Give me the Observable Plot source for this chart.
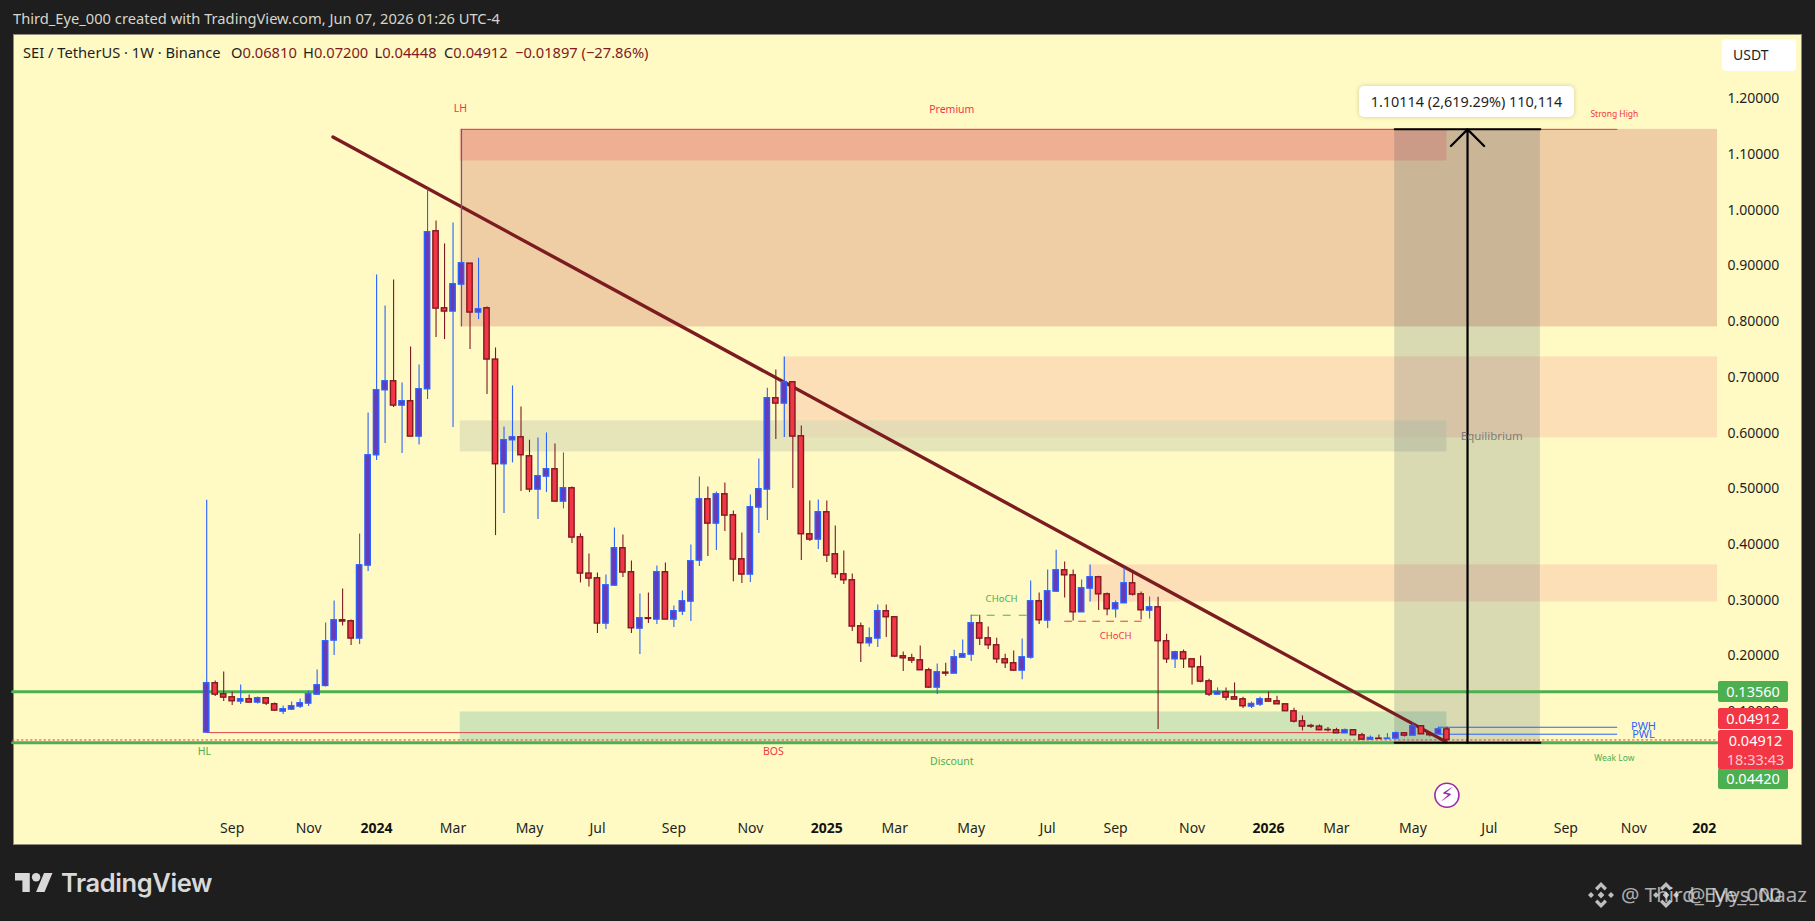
<!DOCTYPE html>
<html><head><meta charset="utf-8">
<script src="https://cdn.jsdelivr.net/npm/d3@7"></script>
<script src="https://cdn.jsdelivr.net/npm/@observablehq/plot@0.6"></script>
<style>
html,body{margin:0;padding:0;background:#1e1e1e;overflow:hidden}
#page{position:relative;width:1815px;height:921px;background:#1e1e1e;font-family:"Noto Sans",sans-serif}
#chart svg{position:absolute;left:13px;top:34px;outline:1.5px solid #8c8c78;outline-offset:-1px}
.t{position:absolute;white-space:nowrap;line-height:1}
.badge{position:absolute;color:#fff;font-size:14.5px;text-align:center;box-sizing:border-box;border-radius:2px}
</style></head><body>
<div id="page"><div id="chart"></div></div>
<script>
const firstWeek = "2023-08-14";
const open = [.0623,.1509,.1311,.1257,.1180,.1222,.1162,.1240,.1132,.1000,.1036,.1090,.1144,.1305,.1461,.2275,.2640,.2622,.2311,.3621,
.5602,.6769,.6931,.6494,.6572,.5937,.6787,.9624,.8241,.8182,.8666,.9043,.8164,.8241,.7320,.5441,.5872,.5925,.5584,.4986,
.5219,.5351,.4770,.5010,.4130,.3478,.3394,.2580,.3262,.3933,.3502,.2490,.2676,.2652,.3502,.2652,.2796,.2975,.3711,.4812,
.4375,.4902,.4525,.3735,.3460,.4663,.4986,.6626,.6530,.6913,.5943,.4184,.4088,.4579,.3825,.3466,.3358,.2532,.2227,.2311,
.2802,.2694,.1993,.1957,.1921,.1742,.1431,.1700,.1682,.1969,.2023,.2586,.2316,.2191,.1939,.1868,.1736,.1969,.2981,.2634,
.3154,.3537,.3447,.2783,.3208,.3412,.3106,.2837,.2945,.3304,.3106,.2813,.2873,.2263,.1939,.2065,.1939,.1796,.1544,.1305,
.1347,.1257,.1221,.1090,.1126,.1221,.1185,.1131,.1006,.0826,.0742,.0731,.0671,.0665,.0611,.0665,.0575,.0497,.0515,.0509,
.0515,.0611,.0569,.0737,.0593,.0593,.0681];
const high = [.4794,.1551,.1712,.1347,.1479,.1299,.1263,.1245,.1156,.1102,.1174,.1228,.1371,.1748,.2592,.2987,.3203,.2646,.4190,.6362,
.8840,.8283,.8750,.6901,.7547,.7224,1.0378,.9809,.9396,.9773,1.1453,.9043,.9139,.8265,.7529,.6111,.6847,.6470,.5872,.5913,
.6003,.5806,.5644,.5034,.4190,.3831,.3490,.3454,.4298,.4172,.3705,.3113,.3131,.3615,.3669,.2897,.3167,.3992,.5213,.5034,
.4944,.5106,.4603,.4208,.4890,.5536,.6805,.7134,.7368,.6913,.6129,.4782,.4800,.4782,.4334,.3885,.3472,.2592,.2502,.2915,
.2915,.2694,.2071,.2029,.2179,.1778,.1856,.1868,.2101,.2286,.2729,.2729,.2520,.2316,.2029,.2089,.2304,.3346,.3130,.3543,
.3896,.3687,.3543,.3364,.3633,.3430,.3130,.2987,.3573,.3501,.3148,.3058,.3052,.2388,.2083,.2107,.1939,.1999,.1580,.1425,
.1425,.1515,.1257,.1173,.1257,.1353,.1275,.1131,.1060,.0922,.0772,.0760,.0713,.0701,.0689,.0677,.0611,.0563,.0581,.0605,
.0635,.0623,.0796,.0749,.0629,.0719,.0720];
const low = [.0623,.1269,.1180,.1108,.1126,.1156,.1138,.1108,.1000,.0946,.1018,.1054,.1090,.1299,.1443,.2006,.2538,.2185,.2203,.3514,
.5506,.5812,.6458,.5632,.5937,.5788,.6602,.7715,.7679,.6099,.7906,.7499,.8038,.6691,.4160,.4555,.5465,.4950,.4932,.4447,
.4932,.4758,.4639,.4016,.3310,.3238,.2401,.2472,.3244,.3406,.2401,.2024,.2580,.2562,.2652,.2508,.2724,.2616,.3603,.3783,
.3891,.4232,.3332,.3298,.3316,.4196,.4429,.5883,.5919,.5004,.3711,.4052,.3909,.3675,.3388,.3280,.2436,.1880,.2161,.2149,
.2329,.1970,.1718,.1862,.1742,.1413,.1305,.1628,.1682,.1957,.1898,.2185,.2113,.1862,.1772,.1724,.1574,.1939,.2562,.2490,
.3136,.3041,.2628,.2783,.2969,.2813,.2723,.2681,.2945,.3076,.2646,.2664,.0677,.1862,.1772,.1772,.1479,.1520,.1269,.1305,
.1197,.1215,.1054,.1054,.1090,.1179,.1131,.1006,.0796,.0653,.0695,.0659,.0635,.0605,.0605,.0575,.0491,.0485,.0503,.0509,
.0515,.0545,.0569,.0593,.0545,.0593,.04448];
const close = [.1509,.1305,.1251,.1186,.1222,.1162,.1240,.1144,.1018,.1042,.1096,.1150,.1311,.1473,.2263,.2640,.2616,.2311,.3627,.5602,
.6769,.6931,.6494,.6572,.5937,.6787,.9606,.8235,.8182,.8672,.9049,.8164,.8223,.7320,.5441,.5872,.5925,.5602,.4986,.5225,
.5351,.4770,.5010,.4124,.3478,.3388,.2580,.3268,.3933,.3496,.2496,.2676,.2664,.3502,.2652,.2802,.2981,.3699,.4812,.4375,
.4902,.4519,.3729,.3460,.4669,.4992,.6626,.6530,.6913,.5937,.4184,.4088,.4579,.3801,.3466,.3358,.2526,.2227,.2317,.2802,
.2694,.1988,.1957,.1915,.1742,.1431,.1706,.1682,.1975,.2029,.2586,.2310,.2191,.1939,.1868,.1736,.1975,.2981,.2640,.3160,
.3537,.3447,.2783,.3214,.3412,.3106,.2837,.2945,.3304,.3100,.2819,.2873,.2263,.1939,.2065,.1939,.1796,.1538,.1305,.1353,
.1251,.1215,.1096,.1137,.1221,.1179,.1131,.1006,.0820,.0731,.0731,.0665,.0665,.0611,.0665,.0575,.0497,.0527,.0509,.0515,
.0611,.0569,.0737,.0593,.0575,.0681,.04912];

const priceTicks = [.1,.2,.3,.4,.5,.6,.7,.8,.9,1,1.1,1.2];
const monthTickDates = ["2023-09-04","2023-11-06","2024-03-04","2024-05-06","2024-07-01","2024-09-02","2024-11-04","2025-03-03","2025-05-05","2025-07-07","2025-09-01","2025-11-03","2026-03-02","2026-05-04","2026-07-06","2026-09-07","2026-11-02"];
const monthTickLabels = ["Sep","Nov","Mar","May","Jul","Sep","Nov","Mar","May","Jul","Sep","Nov","Mar","May","Jul","Sep","Nov"];
const yearTickDates = ["2024-01-01","2025-01-06","2026-01-05","2026-12-30"];
const yearTickLabels = ["2024","2025","2026","202"];

// zones
const zoneStart  = ["2024-03-10","2024-03-10","2024-03-10","2024-03-10","2024-12-01","2025-08-10"];
const zoneEnd    = ["2027-01-10","2026-06-01","2026-06-01","2026-06-01","2027-01-10","2027-01-10"];
const zoneTop    = [1.1453,1.1453,.6219,.0994,.7367,.3633];
const zoneBottom = [.7906,1.0886,.5663,.0442,.5913,.2969];
const zoneFills  = ["#efcda5","#ee9b85","#d8d8b4","#c4e0b4","#fddfb7","#fddfb7"];
const zoneAlpha  = [1,.6,.65,.8,1,1];

const strongHigh=1.1453, weakLow=.0442, support=.1356, lastPrice=.04912, hlLevel=.0623, pwh=.0719, pwl=.0594;
const trendDates=["2023-11-26","2026-05-31"], trendValues=[1.1317,.0461];
const measureStart="2026-04-19", measureEnd="2026-08-17", measureArrow="2026-06-18";
const labelText=["LH","Premium","Strong High","HL","BOS","Discount","Equilibrium","Weak Low","CHoCH","CHoCH","PWH","PWL"];
const labelDates=["2024-03-10","2025-04-19","2026-10-17","2023-08-12","2024-11-23","2025-04-19","2026-07-08","2026-10-17","2025-05-30","2025-09-01","2026-11-10","2026-11-10"];
const labelValues=[1.1827,1.1806,1.173,.0276,.0276,.0101,.5949,.0169,.3030,.2365,.0730,.0581];
const labelFill=["#f23645","#f23645","#f23645","#4caf50","#f23645","#4caf50","#7d7d78","#4caf50","#4caf50","#f23645","#2962ff","#2962ff"];
const labelSize=[10.5,10.5,8.5,10.5,10.5,10.5,11.5,8.5,9.5,9.5,11,11];
const chochGreen={dates:["2025-05-05","2025-06-23"],value:.2730};
const chochRed={dates:["2025-07-21","2025-09-22"],value:.2622};

const D=s=>new Date(s+"T00:00:00Z");
const start=D(firstWeek);
const week=i=>new Date(+start+i*7*864e5);
const shift=(d,n)=>new Date(+d+n*864e5);
const candles=open.map((o,i)=>({date:week(i),open:o,high:high[i],low:low[i],close:close[i],up:close[i]>=o}));
const ups=candles.filter(d=>d.up), downs=candles.filter(d=>!d.up);
const zones=zoneStart.map((s,i)=>({x1:D(s),x2:D(zoneEnd[i]),y1:zoneBottom[i],y2:zoneTop[i],fill:zoneFills[i],a:zoneAlpha[i]}));
const labels=labelText.map((t,i)=>({t,x:D(labelDates[i]),y:labelValues[i],fill:labelFill[i],size:labelSize[i]}));
const hLine=(a,b,v)=>[{x:D(a),y:v},{x:D(b),y:v}];
const leftEdge="2023-03-07", axisEdge="2027-01-10";

const RED="#f23645",REDD="#801922",BLUE="#2962ff",PURP="#673ab7",GREEN="#4caf50";
const bodyMark=(data,fill,stroke)=>Plot.rect(data,{x1:d=>shift(d.date,-2.2),x2:d=>shift(d.date,2.2),y1:"open",y2:"close",fill,stroke,strokeWidth:1.4});

const plot=Plot.plot({
  width:1789,height:811,marginLeft:0,marginRight:81,marginTop:0,marginBottom:28,
  style:{background:"#fff9c4",fontFamily:"'Noto Sans',sans-serif",fontSize:"14px",color:"#1f1f1f",overflow:"visible"},
  x:{type:"utc",domain:[D(firstWeek),week(146)],range:[193.2,1433.4]},
  y:{type:"linear",domain:[0,1.2],range:[732.8,64.4]},
  marks:[
    Plot.rect(zones.slice(0,1),{x1:"x1",x2:"x2",y1:"y1",y2:"y2",fill:d=>d.fill,fillOpacity:d=>d.a}),
    Plot.rect(zones.slice(4),{x1:"x1",x2:"x2",y1:"y1",y2:"y2",fill:d=>d.fill,fillOpacity:d=>d.a}),
    Plot.rect(zones.slice(1,4),{x1:"x1",x2:"x2",y1:"y1",y2:"y2",fill:d=>d.fill,fillOpacity:d=>d.a}),
    Plot.rect([{x1:D(measureStart),x2:D(measureEnd),y1:weakLow,y2:strongHigh}],{x1:"x1",x2:"x2",y1:"y1",y2:"y2",fill:"#113a50",fillOpacity:.16}),
    Plot.axisY({anchor:"right",ticks:priceTicks,tickSize:0,tickPadding:6,label:null,tickFormat:d=>d.toFixed(5),fontSize:14,fill:"#1f1f1f"}),
    Plot.axisX({anchor:"bottom",ticks:monthTickDates.map(D),tickSize:0,tickPadding:6,label:null,tickFormat:d=>monthTickLabels[monthTickDates.map(s=>+D(s)).indexOf(+d)],fontSize:14,fill:"#1f1f1f"}),
    Plot.axisX({anchor:"bottom",ticks:yearTickDates.map(D),tickSize:0,tickPadding:6,label:null,tickFormat:d=>yearTickLabels[yearTickDates.map(s=>+D(s)).indexOf(+d)],fontSize:14,fontWeight:700,fill:"#131313"}),
    Plot.line(hLine(leftEdge,axisEdge,support),{x:"x",y:"y",stroke:GREEN,strokeWidth:3}),
    Plot.line(hLine(leftEdge,axisEdge,weakLow),{x:"x",y:"y",stroke:GREEN,strokeWidth:3}),
    Plot.line(hLine(leftEdge,axisEdge,lastPrice),{x:"x",y:"y",stroke:RED,strokeWidth:1,strokeDasharray:"1.5 3"}),
    Plot.line(hLine(firstWeek,"2026-03-09",hlLevel),{x:"x",y:"y",stroke:"#e0474c",strokeWidth:1}),
    Plot.line(hLine("2024-03-11","2026-10-19",strongHigh),{x:"x",y:"y",stroke:RED,strokeWidth:1}),
    Plot.line(hLine("2026-05-25","2026-10-19",pwh),{x:"x",y:"y",stroke:BLUE,strokeWidth:1}),
    Plot.line(hLine("2026-05-25","2026-10-19",pwl),{x:"x",y:"y",stroke:BLUE,strokeWidth:1}),
    Plot.line(chochGreen.dates.map(d=>({x:D(d),y:chochGreen.value})),{x:"x",y:"y",stroke:GREEN,strokeWidth:1,strokeDasharray:"7 9"}),
    Plot.line(chochRed.dates.map(d=>({x:D(d),y:chochRed.value})),{x:"x",y:"y",stroke:RED,strokeWidth:1,strokeDasharray:"7 7"}),
    Plot.line(trendDates.map((d,i)=>({x:D(d),y:trendValues[i]})),{x:"x",y:"y",stroke:"#7b1c20",strokeWidth:3.4,strokeLinecap:"round"}),
    Plot.ruleX(ups,{x:"date",y1:"low",y2:"high",stroke:BLUE,strokeWidth:1.1}),
    Plot.ruleX(downs,{x:"date",y1:"low",y2:"high",stroke:REDD,strokeWidth:1.1}),
    bodyMark(ups,PURP,BLUE),
    bodyMark(downs,RED,REDD),
    Plot.line(hLine(measureStart,measureEnd,strongHigh),{x:"x",y:"y",stroke:"#000",strokeWidth:2}),
    Plot.line(hLine(measureStart,measureEnd,weakLow),{x:"x",y:"y",stroke:"#000",strokeWidth:2}),
    Plot.arrow([{x:D(measureArrow),y1:weakLow,y2:strongHigh}],{x:"x",y1:"y1",y2:"y2",stroke:"#000",strokeWidth:2.2,headLength:16,headAngle:90,bend:0}),
    Plot.text(labels,{x:"x",y:"y",text:"t",fill:d=>d.fill,fontSize:d=>d.size,fontFamily:"'Noto Sans',sans-serif"}),
    Plot.dot([{x:week(146),y:-.0501}],{x:"x",y:"y",r:12,fill:"#fff",stroke:"#9c27b0",strokeWidth:1.6}),
    Plot.text([{x:week(146),y:-.0501}],{x:"x",y:"y",text:()=>"\u26A1\uFE0E",fill:"#9c27b0",fontSize:19,fontFamily:"DejaVu Sans"})
  ]
});
const page=document.getElementById("page");
document.getElementById("chart").append(plot);

function addText(str,x,cy,size,color,extra){
  const s=document.createElement("div");s.className="t";s.textContent=str;
  s.style.cssText=`left:${x}px;top:${cy-size/2-1}px;font-size:${size}px;color:${color};${extra||""}`;
  page.append(s);return s;
}
function addBox(x,y,w,h,bg,css){const b=document.createElement("div");b.className="badge";
  b.style.cssText=`left:${x}px;top:${y}px;width:${w}px;height:${h}px;background:${bg};${css||""}`;page.append(b);return b;}

addText("Third_Eye_000 created with TradingView.com, Jun 07, 2026 01:26 UTC-4",13,19,14.7,"#d6d6cc");
addText("SEI / TetherUS · 1W · Binance",23,53.5,14.7,"#1f1f1f");
[["O",231,"0.06810"],["H",303,"0.07200"],["L",374.5,"0.04448"],["C",444,"0.04912"]].forEach(([k,x,v])=>{
  const s=addText(k,x,53.5,14.7,"#1f1f1f");
  const sp=document.createElement("span");sp.textContent=v;sp.style.color=REDD;s.append(sp);
});
addText("−0.01897 (−27.86%)",515,53.5,14.7,REDD);

const usdt=addBox(1722,39,74,32,"#fff","border-radius:4px;color:#1f1f1f;text-align:left;padding-left:11px;line-height:32px;font-size:14px");usdt.textContent="USDT";
const meas=addBox(1359,86,215,31,"#fff","border-radius:5px;color:#1f1f1f;line-height:31px;font-size:14.4px;box-shadow:0 0 4px rgba(120,120,80,.35)");meas.textContent="1.10114 (2,619.29%) 110,114";

const yPage=v=>plot.scale("y").apply(v)+34;
const mk=(t,x,y,w,h,bg)=>{const b=addBox(x,y,w,h,bg,`line-height:${h}px`);b.textContent=t;return b;};
mk("0.13560",1718,yPage(support)-10.5,70,21,GREEN);
mk("0.04912",1718,708,70,21,RED);
mk("0.04420",1718,768,70,21,GREEN);
const big=addBox(1718,730,75,39,RED,"line-height:19px;padding-top:1px");
big.innerHTML='0.04912<br><span style="color:#ffc9cd">18:33:43</span>';

// footer
const SVGNS="http://www.w3.org/2000/svg";
const logo=document.createElementNS(SVGNS,"svg");
logo.setAttribute("viewBox","0 0 36 18");logo.setAttribute("width","38");logo.setAttribute("height","19");
logo.style.cssText="position:absolute;left:15px;top:873px";
logo.innerHTML='<path fill="#d9d9d9" d="M14 18H7V7H0V0h14z"/><circle fill="#d9d9d9" cx="20" cy="4" r="4"/><path fill="#d9d9d9" d="M28 18h-8l7.5-18h8z"/>';
page.append(logo);
addText("TradingView",61,884,25.5,"#d9d9d9","font-family:Inter,sans-serif;font-weight:600;letter-spacing:-.4px");
function diamondIcon(cx,cy){
  const s=document.createElementNS(SVGNS,"svg");
  s.setAttribute("viewBox","-14 -14 28 28");s.setAttribute("width","28");s.setAttribute("height","28");
  s.style.cssText=`position:absolute;left:${cx-14}px;top:${cy-14}px`;
  s.innerHTML='<g fill="rgba(230,230,230,.8)"><path d="M0-13l6 6-2.4 2.4L0-8.2-3.6-4.6-6-7zM0 13l6-6-2.4-2.4L0 8.2-3.6 4.6-6 7zM-13 0l3-3 3 3-3 3zM13 0l-3-3-3 3 3 3zM0-3.4L3.4 0 0 3.4-3.4 0z"/></g>';
  page.append(s);
}
diamondIcon(1600.7,895);
addText("@ Third_Eye_000",1621,895,20.5,"rgba(230,230,230,.72)");
diamondIcon(1666,895);
addText("@ Mys_Naaz",1687,895,20.5,"rgba(230,230,230,.72)");
</script>
</body></html>
